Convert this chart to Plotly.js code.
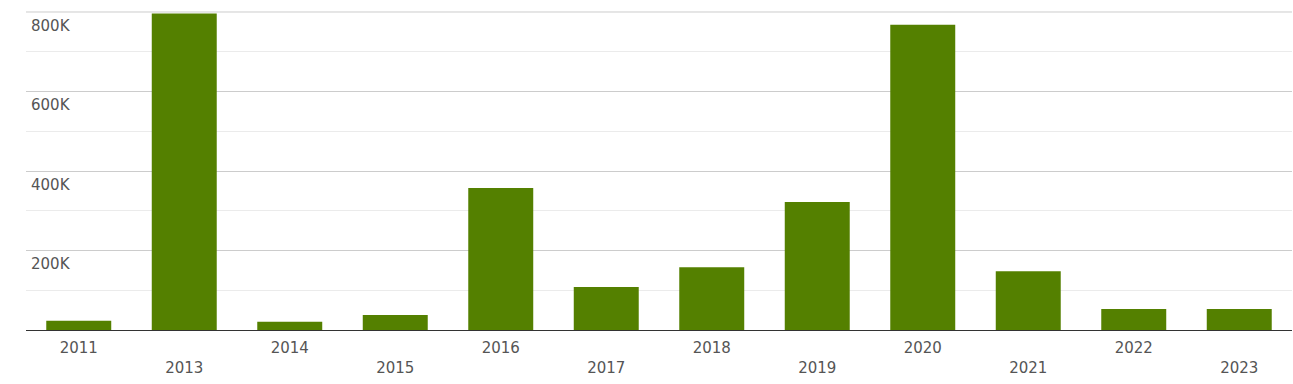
<!DOCTYPE html>
<html>
<head>
<meta charset="utf-8">
<script src="https://cdn.plot.ly/plotly-3.0.1.min.js"></script>
<style>html,body{margin:0;padding:0;background:#fff;}#chart{width:1293px;height:384px;}</style>
</head>
<body>
<div id="chart"></div>
<script>
const years = ["2011","2013","2014","2015","2016","2017","2018","2019","2020","2021","2022","2023"];
const values = [23000, 796000, 21000, 38000, 357000, 108000, 158000, 322000, 768000, 148000, 53000, 53000];
const yTickVals = [200000, 400000, 600000, 800000];
const yTickText = ["200K", "400K", "600K", "800K"];
const yMinorVals = [100000, 300000, 500000, 700000];

const xTickText = years.map((y, i) => i % 2 === 0 ? y : "<br>" + y);

const trace = {
  type: "bar",
  x: years,
  y: values,
  marker: {color: "#548000"},
  hoverinfo: "x+y"
};

const layout = {
  width: 1293,
  height: 384,
  margin: {l: 26, r: 1, t: 11, b: 54},
  paper_bgcolor: "#fff",
  plot_bgcolor: "#fff",
  bargap: 0.384,
  showlegend: false,
  font: {family: "DejaVu Sans", size: 15, color: "#555"},
  xaxis: {
    type: "category",
    range: [-0.5, years.length - 0.5],
    tickvals: years,
    ticktext: xTickText,
    showline: true,
    linecolor: "#333",
    linewidth: 1,
    ticks: "",
    showgrid: false,
    ticklabelstandoff: 4,
    tickfont: {family: "DejaVu Sans", size: 15, color: "#555"}
  },
  yaxis: {
    range: [0, 802500],
    tickmode: "array",
    tickvals: yTickVals,
    ticktext: yTickText,
    ticklabelposition: "inside bottom",
    ticklabelstandoff: 2,
    ticklabelshift: 3,
    showgrid: true,
    gridcolor: "#ccc",
    gridwidth: 1,
    zeroline: false,
    ticks: "",
    tickfont: {family: "DejaVu Sans", size: 15, color: "#555"},
    minor: {
      tickmode: "array",
      tickvals: yMinorVals,
      showgrid: true,
      gridcolor: "#ebebeb",
      gridwidth: 1,
      ticks: ""
    }
  },
  shapes: [{
    type: "line",
    xref: "paper", x0: 0, x1: 1,
    yref: "y", y0: yTickVals[yTickVals.length - 1], y1: yTickVals[yTickVals.length - 1],
    line: {color: "#ccc", width: 1},
    layer: "below"
  }]
};

Plotly.newPlot("chart", [trace], layout, {displayModeBar: false, staticPlot: true});
</script>
</body>
</html>
